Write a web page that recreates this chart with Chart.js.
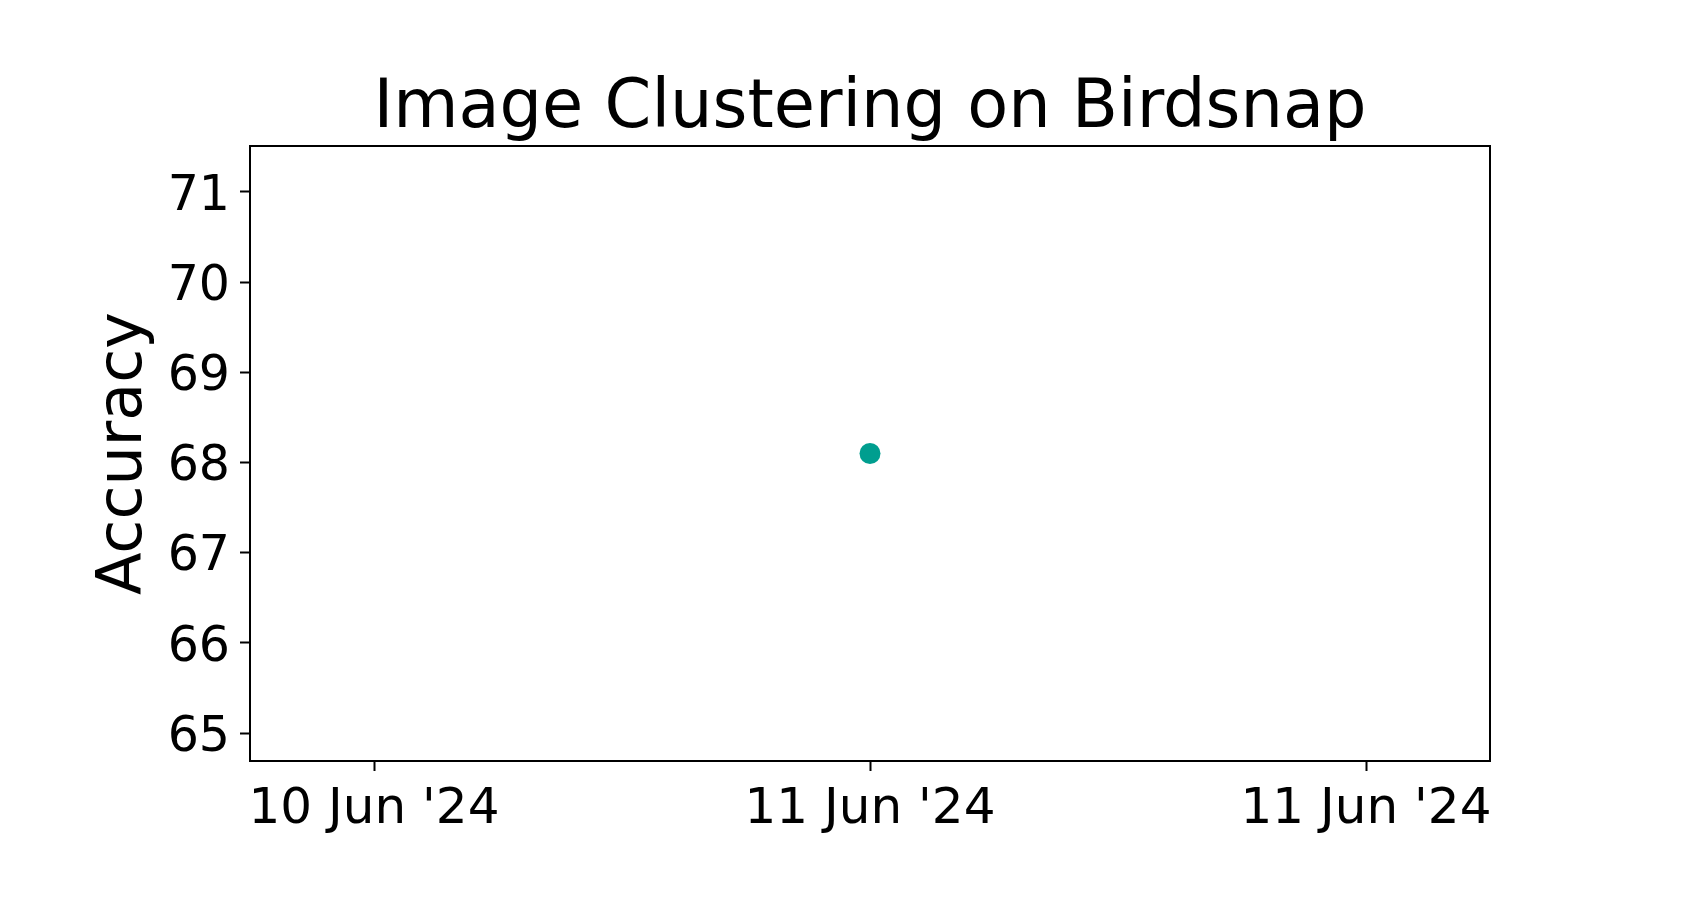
<!DOCTYPE html>
<html>
<head>
<meta charset="utf-8">
<title>Image Clustering on Birdsnap</title>
<script src="https://cdn.jsdelivr.net/npm/chart.js@4"></script>
<style>
  html, body { margin: 0; padding: 0; background: #fff; }
  #wrap { width: 1700px; height: 900px; }
</style>
</head>
<body>
<div id="wrap"><canvas id="chart" width="1700" height="900"></canvas></div>
<script>
// data
const pointX = [0];
const accuracy = [68.1];
const xTickValues = [-1, 0, 1];
const xTickLabels = ["10 Jun '24", "11 Jun '24", "11 Jun '24"];
const yTickValues = [65, 66, 67, 68, 69, 70, 71];

const FONT = 'DejaVu Sans';
const $ = (id) => document.getElementById(id);

// box around the plot area (matplotlib style spines)
const frame = {
    id: 'frame',
    afterDraw(chart) {
        const { ctx, chartArea: a } = chart;
        ctx.save();
        ctx.strokeStyle = '#000';
        ctx.lineWidth = 2;
        ctx.strokeRect(a.left, a.top, a.right - a.left, a.bottom - a.top);
        ctx.restore();
    }
};

const points = pointX.map((x, i) => ({ x, y: accuracy[i] }));

new Chart($('chart').getContext('2d'), {
    type: 'scatter',
    data: {
        datasets: [{
            data: points,
            backgroundColor: '#009e8f',
            borderWidth: 0,
            pointRadius: 10.5,
            pointHoverRadius: 10.5
        }]
    },
    options: {
        responsive: false,
        animation: false,
        layout: { padding: { left: 0, right: 210, top: 0, bottom: 0 } },
        plugins: {
            legend: { display: false },
            tooltip: { enabled: false },
            title: {
                display: true,
                fullSize: false,
                text: 'Image Clustering on Birdsnap',
                color: '#000',
                font: { family: FONT, size: 67, weight: 'normal', lineHeight: 1 },
                padding: { top: 76, bottom: 3 }
            }
        },
        scales: {
            x: {
                type: 'linear',
                min: -1.25,
                max: 1.25,
                afterBuildTicks: (s) => { s.ticks = xTickValues.map(v => ({ value: v })); },
                afterFit: (s) => { s.height = 139; },
                grid: { drawOnChartArea: false, drawTicks: true, tickLength: 10, tickWidth: 2, tickColor: '#000' },
                border: { display: true, color: '#000', width: 2 },
                ticks: {
                    color: '#000',
                    padding: 9,
                    maxRotation: 0,
                    autoSkip: false,
                    font: { family: FONT, size: 50 },
                    callback: (v) => xTickLabels[xTickValues.indexOf(v)]
                }
            },
            y: {
                min: 64.69,
                max: 71.51,
                afterBuildTicks: (s) => { s.ticks = yTickValues.map(v => ({ value: v })); },
                afterFit: (s) => { s.width = 250; },
                grid: { drawOnChartArea: false, drawTicks: true, tickLength: 10, tickWidth: 2, tickColor: '#000' },
                border: { display: true, color: '#000', width: 2 },
                ticks: {
                    color: '#000',
                    padding: 10,
                    labelOffset: 5,
                    autoSkip: false,
                    font: { family: FONT, size: 49 },
                    callback: (v) => String(v)
                },
                title: {
                    display: true,
                    text: 'Accuracy',
                    color: '#000',
                    font: { family: FONT, size: 62, lineHeight: 1 },
                    padding: { top: 94, bottom: 0 }
                }
            }
        }
    },
    plugins: [frame]
});
</script>
</body>
</html>
